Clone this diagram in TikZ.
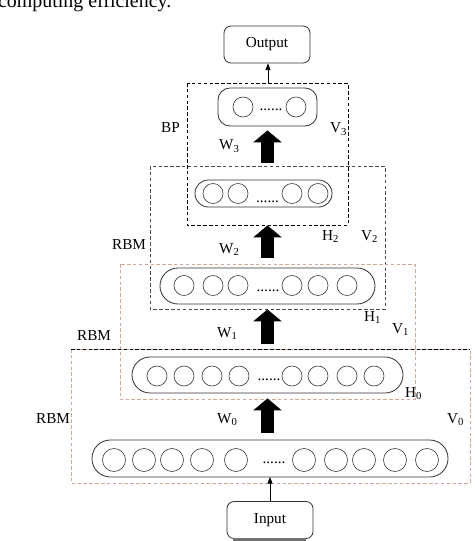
\documentclass[tikz,border=0pt]{standalone}
\usepackage{fontspec}
\setmainfont{Liberation Serif}
\usetikzlibrary{arrows.meta}
\definecolor{boxtan}{RGB}{205,168,155}
\begin{document}
\begin{tikzpicture}[x=0.03cm, y=-0.03cm,
	lbl/.style={anchor=base west, font=\fontsize{13}{15}\selectfont},
	dots/.style={anchor=base, font=\fontsize{13}{15}\selectfont},
	layer/.style={draw=black!80, line width=0.7pt},
	unit/.style={draw=black!75, line width=0.55pt, circle, inner sep=0pt},
	io/.style={draw=black!80, line width=0.7pt, rounded corners=6pt, minimum width=2.58cm, minimum height=1.11cm, font=\fontsize{13}{15}\selectfont},
	bigarrow/.style={line width=0.39cm, -{Triangle[length=0.36cm, width=0.84cm]}},
	thinarrow/.style={line width=0.6pt, -{Triangle[length=0.2cm, width=0.15cm]}},
	box/.style={line width=0.6pt, dash pattern=on 3pt off 2pt}]
			\useasboundingbox (0,0) rectangle (474,541);
			%Caption fragment
			\node[anchor=base west, font=\fontsize{17}{20}\selectfont] (cap) at (-6,8) {computing efficiency.};
			%Dashed boxes
			\draw[box, black] (187,83) rectangle (348,225);
			\draw[box, black!70] (150,166) rectangle (385,309);
			\draw[box, boxtan] (120,264) rectangle (415,399);
			\draw[box, boxtan] (71,349) rectangle (470,483);
			\draw[box, black] (71,349) -- (470,349);
			%Input and output
			\node[io] (out) at (267,44.5) {Output};
			\node[io] (in) at (270,520) {Input};
			\fill[black!55] (233,538) rectangle (306,541);
			\coordinate (bptop) at (268,83);
			\draw[thinarrow] (bptop) -- (bptop |- out.south);
			\draw[thinarrow] (in.north) -- (in.north |- 0,477);
			%Layers
			\node[layer, minimum width=2.97cm, minimum height=1.14cm, rounded corners=0.36cm] (v3) at (267.5,107) {};
			\node[layer, minimum width=4.11cm, minimum height=0.81cm, rounded corners=0.4cm] (h2) at (263.5,193.5) {};
			\node[layer, minimum width=6.45cm, minimum height=1.08cm, rounded corners=0.54cm] (h1) at (267.5,286) {};
			\node[layer, minimum width=8.13cm, minimum height=1.08cm, rounded corners=0.54cm] (h0) at (267.5,375) {};
			\node[layer, minimum width=10.68cm, minimum height=1.11cm, rounded corners=0.55cm] (v0) at (270,458.5) {};
			%Units
			\foreach \x [count=\i] in {243,296}
				\node[unit, minimum size=0.6cm] (v3u\i) at (\x,107) {};
			\foreach \x [count=\i] in {213,238,292,318}
				\node[unit, minimum size=0.6cm] (h2u\i) at (\x,193.5) {};
			\foreach \x [count=\i] in {184,213,238,292,318,347}
				\node[unit, minimum size=0.6cm] (h1u\i) at (\x,285.5) {};
			\foreach \x [count=\i] in {157,184,212,239,292,318,347,374}
				\node[unit, minimum size=0.6cm] (h0u\i) at (\x,376) {};
			\foreach \x [count=\i] in {114,144,172,202,236,304,336,364,395,427}
				\node[unit, minimum size=0.69cm] (v0u\i) at (\x,460) {};
			\node[dots] (v3d) at (271,111) {......};
			\node[dots] (h2d) at (267.5,202) {......};
			\node[dots] (h1d) at (268,291) {......};
			\node[dots] (h0d) at (269,380) {......};
			\node[dots] (v0d) at (274,463) {......};
			%Weights
			\draw[bigarrow, shorten <=0.51cm, shorten >=0.12cm] (h2.north -| v3.south) -- (v3.south);
			\draw[bigarrow, shorten <=0.3cm, shorten >=0.54cm] (h1.north) -- (h1.north |- h2.south);
			\draw[bigarrow, shorten <=0.39cm, shorten >=0.15cm] (h0.north) -- (h0.north |- h1.south);
			\draw[bigarrow, shorten <=0.21cm, shorten >=0.15cm] (v0.north -| h0.south) -- (h0.south);
			%Labels
			\node[lbl] (bp) at (157,133) {BP};
			\node[lbl] (v3l) at (326,133) {V\textsubscript{3}};
			\node[lbl] (w3) at (215,150) {W\textsubscript{3}};
			\node[lbl] (rbm2) at (108,249) {RBM};
			\node[lbl] (w2) at (215,253) {W\textsubscript{2}};
			\node[lbl] (h2l) at (318,240) {H\textsubscript{2}};
			\node[lbl] (v2l) at (357,240) {V\textsubscript{2}};
			\node[lbl] (rbm1) at (73,340) {RBM};
			\node[lbl] (w1) at (213,337) {W\textsubscript{1}};
			\node[lbl] (h1l) at (360,321) {H\textsubscript{1}};
			\node[lbl] (v1l) at (388,333) {V\textsubscript{1}};
			\node[lbl] (rbm0) at (32,423) {RBM};
			\node[lbl] (w0) at (213,423) {W\textsubscript{0}};
			\node[lbl] (h0l) at (401,397) {H\textsubscript{0}};
			\node[lbl] (v0l) at (443,423) {V\textsubscript{0}};
\end{tikzpicture}
\end{document}
